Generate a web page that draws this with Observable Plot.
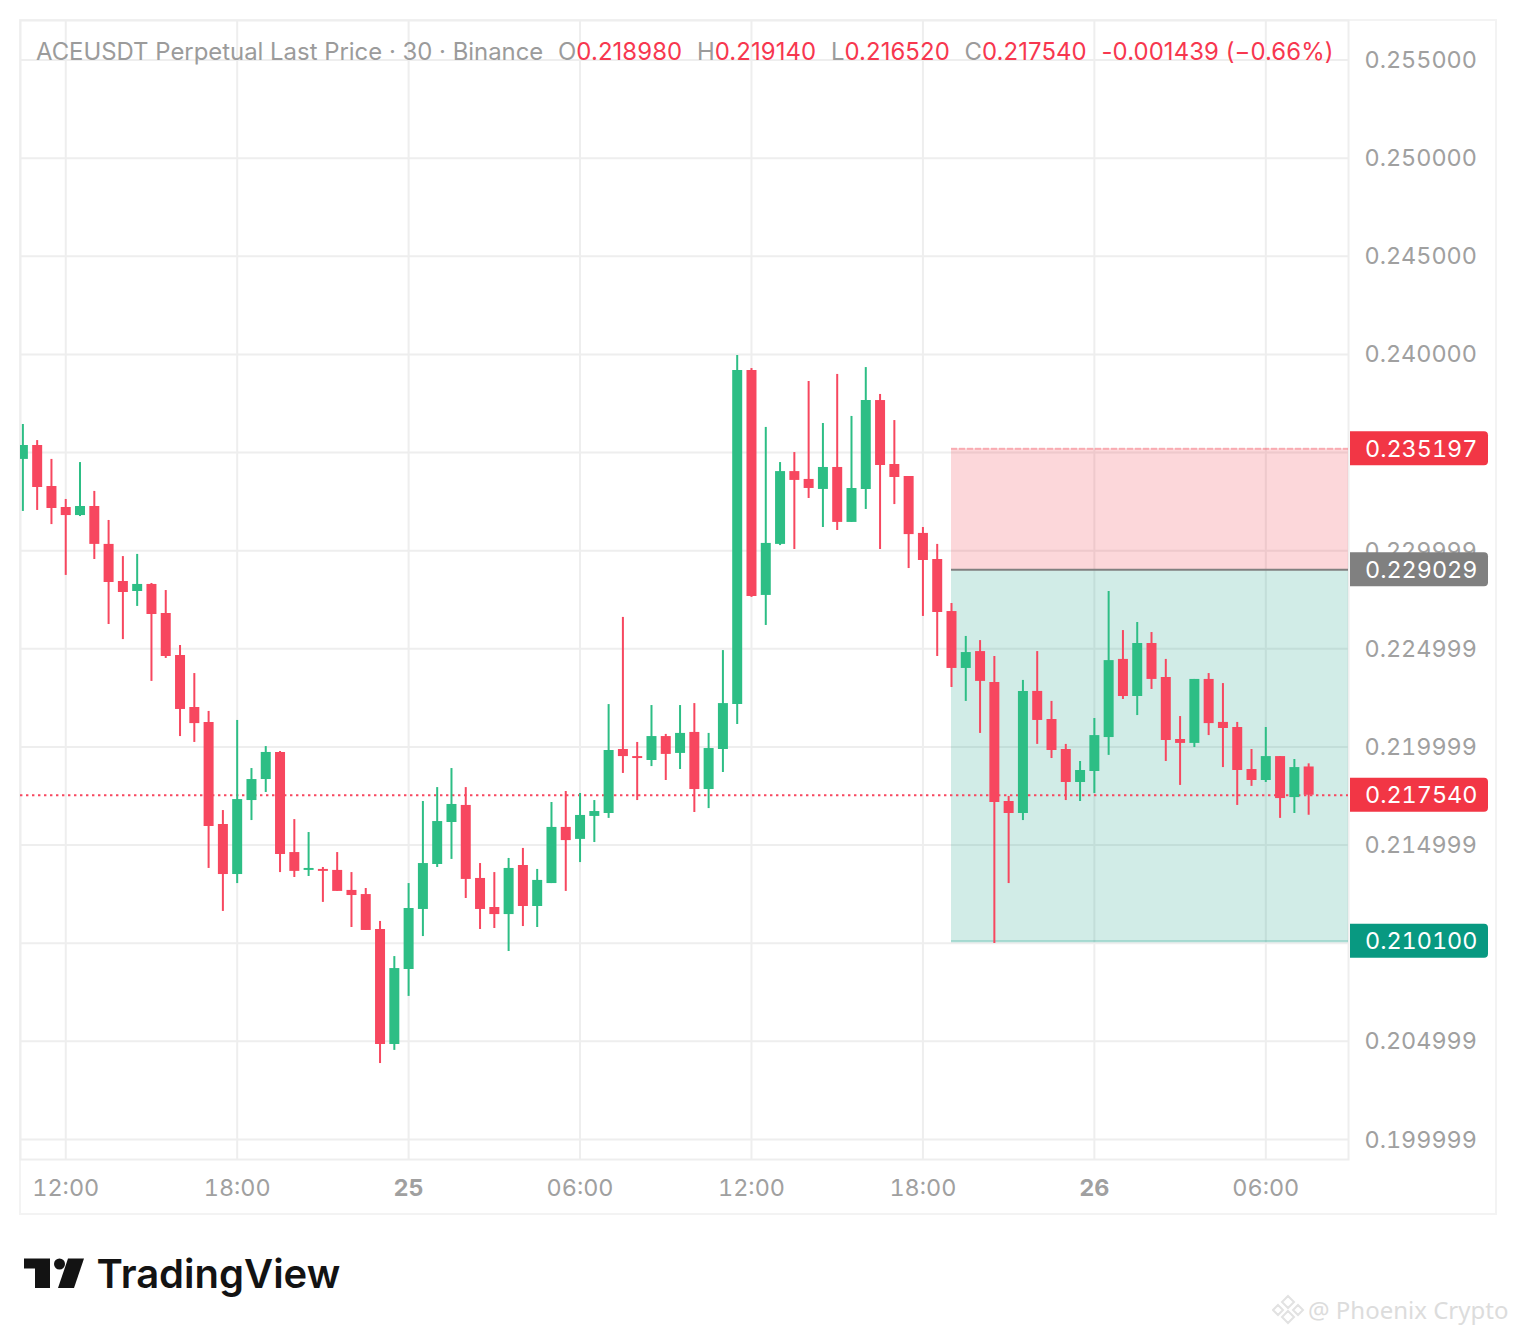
<!DOCTYPE html>
<html>
<head>
<meta charset="utf-8">
<script src="https://cdn.jsdelivr.net/npm/d3@7"></script>
<script src="https://cdn.jsdelivr.net/npm/@observablehq/plot@0.6"></script>
<style>
  html,body{margin:0;padding:0;background:#fff;}
  #wrap{position:relative;width:1516px;height:1334px;overflow:hidden;font-family:Inter,"Noto Sans",sans-serif;}
  #wrap svg.plot{display:block;position:absolute;left:0;top:0;}
  #legend{position:absolute;left:36px;top:37px;font-size:23.9px;line-height:30px;color:#9b9b9b;white-space:nowrap;}
  #legend .r{color:#f7374f;letter-spacing:.09px;}
  #legend .g{margin-left:14.8px;}
  #logo{position:absolute;left:0;top:0;}
  #brand{position:absolute;left:96.5px;top:1249px;font:600 40px/50px Inter,sans-serif;color:#131313;letter-spacing:0;}
  #mark{position:absolute;left:1308px;top:1293px;font:24px/34px "Noto Sans",sans-serif;color:#dcdcdc;white-space:nowrap;}
</style>
</head>
<body>
<div id="wrap">
  <div id="chart"></div>
  <div id="legend"></div>
  <svg id="logo" width="400" height="1334" viewBox="0 0 400 1334">
    <path fill="#131313" d="M24 1258.5H50V1288H35V1268.5H24Z"/>
    <circle fill="#131313" cx="59.5" cy="1264" r="5.5"/>
    <path fill="#131313" d="M68 1258.5H84L74 1288H58Z"/>
  </svg>
  <div id="brand">TradingView</div>
  <svg style="position:absolute;left:1272px;top:1294px" width="34" height="32" viewBox="0 0 34 32" fill="none" stroke="#e2e2e2" stroke-width="2">
    <path d="M16 2l6 6-6 6-6-6zM6 11l5 5-5 5-5-5zM26 11l5 5-5 5-5-5zM16 17l6 6-6 6-6-6z"/>
  </svg>
  <div id="mark">@ Phoenix Crypto</div>
</div>
<script>
// 30-minute candles, first one opens at 10:30 on the 24th
const firstCandle = Date.UTC(2024, 0, 24, 10, 30);
const opens = [.23465,.23536,.23327,.23220,.23179,.23225,.23032,.22843,.22792,.22828,.22680,.22466,.22201,.22125,.21605,.21350,.21727,.21834,.21972,.21462,.21371,.21376,.21371,.21269,.21248,.21070,.20484,.20866,.21172,.21401,.21615,.21702,.21330,.21182,.21146,.21396,.21187,.21304,.21590,.21529,.21646,.21661,.21987,.21951,.21931,.22053,.21967,.22074,.21783,.21987,.22216,.23918,.22772,.23032,.23403,.23363,.23312,.23424,.23144,.23312,.23765,.23439,.23378,.23088,.22955,.22690,.22400,.22486,.22328,.21722,.21661,.22283,.22140,.21987,.21819,.21875,.22048,.22446,.22257,.22527,.22354,.22038,.22018,.22344,.22125,.22099,.21885,.21829,.21951,.21742,.21898];
const highs = [.23643,.23561,.23465,.23261,.23449,.23302,.23154,.22970,.22981,.22833,.22797,.22517,.22374,.22181,.21676,.22135,.21890,.22002,.21977,.21630,.21564,.21386,.21462,.21360,.21279,.21111,.20932,.21304,.21722,.21793,.21890,.21793,.21406,.21360,.21432,.21483,.21376,.21717,.21773,.21763,.21727,.22216,.22660,.22023,.22211,.22064,.22211,.22221,.22069,.22491,.23995,.23928,.23628,.23449,.23500,.23862,.23648,.23898,.23684,.23933,.23796,.23663,.23378,.23118,.23032,.22731,.22563,.22542,.22461,.21748,.22339,.22486,.22232,.22013,.21926,.22145,.22792,.22593,.22634,.22583,.22446,.22155,.22344,.22374,.22323,.22125,.21987,.22099,.21951,.21936,.21914];
const lows = [.23200,.23205,.23133,.22874,.23174,.22955,.22624,.22547,.22716,.22334,.22451,.22053,.22023,.21381,.21162,.21304,.21625,.21768,.21360,.21335,.21340,.21208,.21264,.21080,.21065,.20387,.20454,.20729,.21034,.21386,.21427,.21228,.21070,.21075,.20958,.21085,.21080,.21304,.21264,.21411,.21513,.21636,.21865,.21727,.21900,.21829,.21885,.21666,.21686,.21870,.22114,.22762,.22619,.23026,.23006,.23266,.23118,.23103,.23144,.23210,.23006,.23235,.22909,.22665,.22461,.22303,.22232,.22069,.20999,.21304,.21625,.22013,.21941,.21727,.21722,.21763,.21957,.22242,.22160,.22293,.21926,.21804,.21997,.22058,.21895,.21702,.21799,.21819,.21636,.21661,.21652];
const closes = [.23536,.23322,.23215,.23179,.23225,.23032,.22838,.22787,.22828,.22675,.22461,.22191,.22119,.21595,.21350,.21732,.21834,.21972,.21452,.21366,.21381,.21366,.21264,.21243,.21065,.20484,.20871,.21177,.21406,.21620,.21707,.21325,.21172,.21146,.21381,.21187,.21320,.21590,.21523,.21651,.21671,.21982,.21951,.21941,.22053,.21962,.22069,.21783,.21992,.22221,.23918,.22767,.23037,.23403,.23358,.23317,.23424,.23144,.23317,.23765,.23434,.23373,.23082,.22950,.22685,.22400,.22481,.22334,.21717,.21661,.22283,.22135,.21982,.21819,.21880,.22058,.22440,.22257,.22527,.22344,.22033,.22018,.22344,.22119,.22094,.21880,.21829,.21951,.21737,.21895,.21754];

const priceTicks = [.255,.25,.245,.24,.235,.23,.225,.22,.215,.21,.205,.2];
const priceTickLabels = ["0.255000","0.250000","0.245000","0.240000","0.234999","0.229999","0.224999","0.219999","0.214999","0.209999","0.204999","0.199999"];
const hourTicks = [Date.UTC(2024,0,24,12),Date.UTC(2024,0,24,18),Date.UTC(2024,0,25,6),Date.UTC(2024,0,25,12),Date.UTC(2024,0,25,18),Date.UTC(2024,0,26,6)];
const dayTicks = [Date.UTC(2024,0,25),Date.UTC(2024,0,26)];

const lastPrice = 0.21754, stopPrice = 0.235197, entryPrice = 0.229029, targetPrice = 0.2101;
const positionStart = Date.UTC(2024,0,25,19);
const xDomain = [Date.UTC(2024,0,24,10,25), Date.UTC(2024,0,26,8,53,40)];
const yDomain = [0.198981, 0.257013];

const priceBadges = [
  {p: stopPrice, text: "0.235197", fill: "#f23645"},
  {p: entryPrice, text: "0.229029", fill: "#808080"},
  {p: lastPrice, text: "0.217540", fill: "#f23645"},
  {p: targetPrice, text: "0.210100", fill: "#089981"}
];

const legendParts = [
  ["ACEUSDT Perpetual Last Price · 30 · Binance", ""],
  ["O", "0.218980"], ["H", "0.219140"], ["L", "0.216520"], ["C", "0.217540"],
  ["", "-0.001439 (−0.66%)"]
];
document.getElementById("legend").innerHTML = legendParts.map(([a,b],i) =>
  `<span class="${i?"g":""}">${a}</span><span class="r">${b}</span>`).join("");

const RED = "#f7475f", GREEN = "#2dbe85", GRID = "#eeeeee";
const candles = opens.map((o,i) => ({
  t: new Date(firstCandle + i*30*60*1000), o, h: highs[i], l: lows[i], c: closes[i],
  color: closes[i] >= o ? GREEN : RED
}));

// outer frame and price badges positioned from the plot's own scales
function outerFrame(index, scales, values, dims) {
  const g = d3.create("svg:g");
  g.append("rect").attr("x",20).attr("y",20).attr("width",dims.width-40).attr("height",1194)
    .attr("fill","none").attr("stroke","#f3f3f3").attr("stroke-width",2);
  return g.node();
}
function badges(index, scales, values, dims) {
  const g = d3.create("svg:g");
  const x0 = dims.width - dims.marginRight + 2, w = 138, h = 34, r = 4;
  for (const b of priceBadges) {
    const y = scales.y(b.p);
    g.append("path").attr("fill", b.fill)
      .attr("d", `M${x0} ${y-h/2}h${w-r}a${r} ${r} 0 0 1 ${r} ${r}v${h-2*r}a${r} ${r} 0 0 1 ${-r} ${r}h${-(w-r)}z`);
    g.append("text").attr("x", x0+15).attr("y", y).attr("dy","0.36em").attr("fill","#fff")
      .attr("text-anchor","start").attr("font-variant","tabular-nums")
      .attr("font-size",23.4).attr("font-family","Inter, sans-serif").text(b.text);
  }
  return g.node();
}

const chart = Plot.plot({
  width: 1516, height: 1334,
  marginLeft: 20, marginRight: 168, marginTop: 20, marginBottom: 175,
  style: {background:"#fff", fontFamily:"Inter, sans-serif", fontSize:"23.4px", overflow:"visible"},
  x: {type:"utc", domain:xDomain},
  y: {domain:yDomain},
  marks: [
    outerFrame,
    Plot.gridY(priceTicks,{stroke:GRID,strokeOpacity:1,strokeWidth:2}),
    Plot.gridX([...hourTicks,...dayTicks],{stroke:GRID,strokeOpacity:1,strokeWidth:2}),
    Plot.frame({stroke:GRID,strokeWidth:2}),
    Plot.axisY({anchor:"right",ticks:priceTicks,tickFormat:d=>priceTickLabels[priceTicks.indexOf(d)],tickSize:0,tickPadding:16,dy:0.5,label:null,fill:"#a0a0a0",fontSize:23.4,textAnchor:"start"}),
    Plot.axisX({ticks:hourTicks,tickFormat:d3.utcFormat("%H:%M"),tickSize:0,tickPadding:20,label:null,fill:"#a0a0a0",fontSize:23.4}),
    Plot.axisX({ticks:dayTicks,tickFormat:d3.utcFormat("%-d"),tickSize:0,tickPadding:20,label:null,fill:"#a0a0a0",fontSize:23.4,fontWeight:700}),
    Plot.rect([{y1:entryPrice,y2:stopPrice}],{x1:()=>new Date(positionStart),x2:()=>new Date(xDomain[1]),y1:"y1",y2:"y2",fill:"#f23645",fillOpacity:0.2}),
    Plot.rect([{y1:targetPrice,y2:entryPrice}],{x1:()=>new Date(positionStart),x2:()=>new Date(xDomain[1]),y1:"y1",y2:"y2",fill:"#089981",fillOpacity:0.19}),
    Plot.ruleY([stopPrice],{x1:()=>new Date(positionStart),x2:()=>new Date(xDomain[1]),stroke:"#f23645",strokeOpacity:0.3,strokeWidth:2,strokeDasharray:"6,2"}),
    Plot.ruleY([targetPrice],{x1:()=>new Date(positionStart),x2:()=>new Date(xDomain[1]),stroke:"#089981",strokeOpacity:0.35,strokeWidth:2}),
    Plot.ruleY([entryPrice],{x1:()=>new Date(positionStart),x2:()=>new Date(xDomain[1]),stroke:"#808080",strokeWidth:2}),
    Plot.ruleY([lastPrice],{stroke:"#f7475f",strokeWidth:2,strokeDasharray:"2.4,3.6"}),
    Plot.ruleX(candles,{x:"t",y1:"l",y2:"h",stroke:"color",strokeWidth:2,clip:"frame"}),
    Plot.ruleX(candles,{x:"t",y1:"o",y2:"c",stroke:"color",strokeWidth:10,clip:"frame"}),
    badges
  ]
});
document.getElementById("chart").appendChild(chart);
</script>
</body>
</html>
